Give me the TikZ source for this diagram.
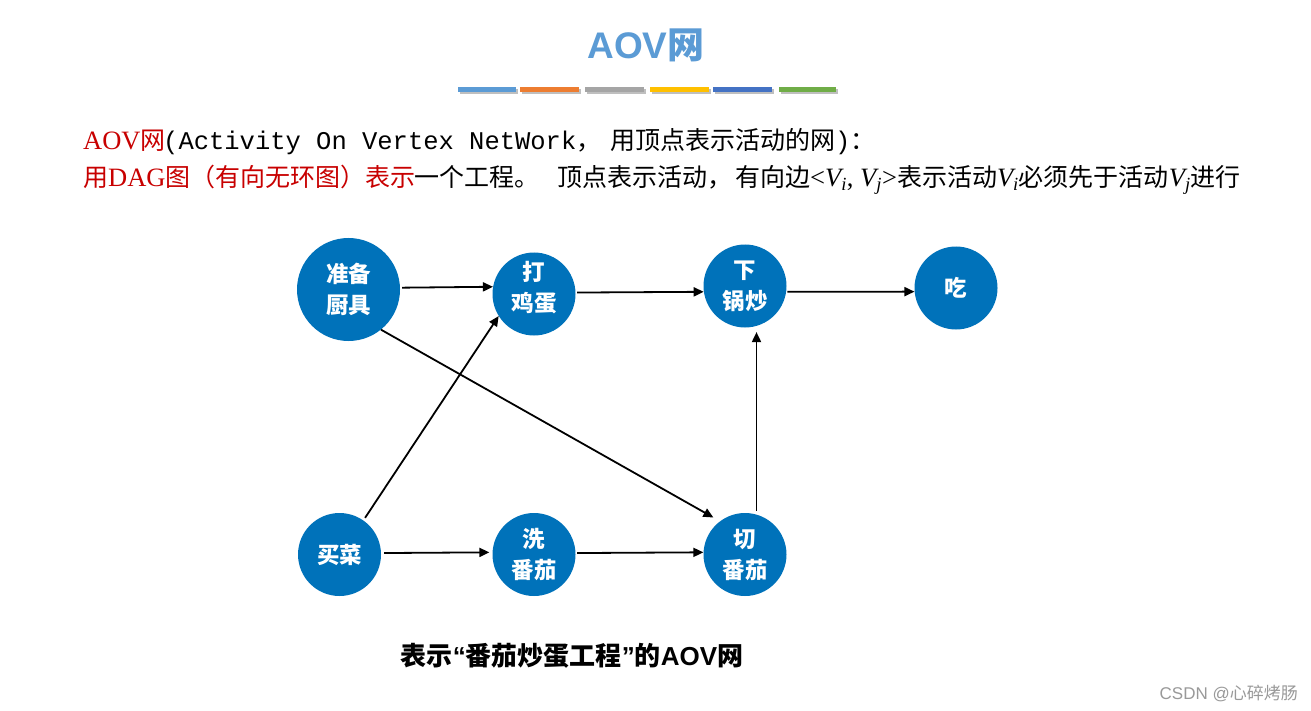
\documentclass[tikz,border=0pt]{standalone}
\usepackage{fontspec}
\setmainfont{Liberation Serif}
\newfontfamily\serfam{Liberation Serif}
\newfontfamily\monofam{Liberation Mono}
\newfontfamily\sansfam{Liberation Sans}
\newfontfamily\zhfam{Noto Sans CJK SC}
\usetikzlibrary{arrows.meta}
\definecolor{nodeblue}{RGB}{0,114,186}
\definecolor{titleblue}{RGB}{91,155,213}
\definecolor{aovred}{RGB}{200,0,0}
\definecolor{barA}{RGB}{91,155,213}
\definecolor{barB}{RGB}{237,125,49}
\definecolor{barC}{RGB}{165,165,165}
\definecolor{barD}{RGB}{255,192,0}
\definecolor{barE}{RGB}{68,114,196}
\definecolor{barF}{RGB}{112,173,71}
\newcommand\zhf{\zhfam\fontsize{25}{29}\selectfont}
\newcommand\serf{\serfam\fontsize{26.5}{30}\selectfont}
\newcommand\monof{\monofam\fontsize{25.5}{30}\selectfont}
\tikzset{
  vtx/.style={circle, fill=nodeblue, draw=none, inner sep=0pt, minimum size=83pt,
    text=white, align=center, font=\zhfam\bfseries\fontsize{22.5}{31}\selectfont},
  lbl/.style={inner sep=0pt, text=white, align=center, font=\zhfam\bfseries\fontsize{22.5}{31}\selectfont},
  arr/.style={-{Triangle[length=10pt,width=9pt]}, line width=1.8pt, black},
  txt/.style={anchor=base west, inner sep=0pt},
}
\begin{document}
\begin{tikzpicture}[x=1pt,y=-1pt]
\useasboundingbox (0,0) rectangle (1311,711);
\fill[white] (0,0) rectangle (1311,711);

% title
\node[anchor=base, inner sep=0pt, text=titleblue, font=\bfseries\fontsize{37}{40}\selectfont] (title) at (646,59) {\sansfam AOV\zhfam 网};

% colour bars
\foreach \xa/\xb/\c in {458/516/barA, 520/579/barB, 585/644/barC, 650/709/barD, 713/772/barE, 779/836/barF}{
  \fill[black, opacity=0.25] (\xa+1.5,89.5) rectangle (\xb+1.5,94.5);
  \fill[\c] (\xa,87) rectangle (\xb,92);
}

% text line 1
\node[txt] (l1a) at (83,150) {\color{aovred}\serf AOV\zhf 网};
\node[txt] (l1b) at (163,150) {\monof(Activity On Vertex NetWork\zhf ，};
\node[txt] (l1c) at (610,150) {\zhf 用顶点表示活动的网\monof)\zhf ：};

% text line 2
\node[txt, text=aovred] (l2a) at (83,187) {\zhf 用\serf DAG\zhf 图（有向无环图）表示};
\node[txt] (l2b) at (414,187) {\zhf 一个工程。};
\node[txt] (l2c) at (557,187) {\zhf 顶点表示活动，};
\node[txt] (l2d) at (735,187) {\zhf 有向边\serf <\itshape V\textsubscript{i}\upshape, \itshape V\textsubscript{j}\upshape>\zhf 表示活动\serf\itshape V\textsubscript{i}\zhf\upshape 必须先于活动\serf\itshape V\textsubscript{j}\zhf\upshape 进行};

% vertices
\node[vtx, minimum size=103pt] (A) at (348.5,289.5) {准备\\厨具};
\node[vtx] (B) at (534,294) {};
\node[lbl] (Bt) at ([yshift=6pt]B.center) {打\\鸡蛋};
\node[vtx] (C) at (745,286) {下\\锅炒};
\node[vtx] (D) at (956,288) {吃};
\node[vtx] (E) at (339.5,554.5) {买菜};
\node[vtx] (F) at (534,554.5) {洗\\番茄};
\node[vtx] (G) at (745,554.5) {切\\番茄};

% connectors
\draw[arr, shorten <=2pt] (A.2.78) -- (B.170.29);
\draw[arr, shorten <=1.5pt] (B.2.76) -- (C.188.31);
\draw[arr, shorten <=1pt] (C.-8.31) -- (D.185.53);
\draw[arr, shorten <=3pt, shorten >=3pt] (E.2.07) -- (F.177.93);
\draw[arr, shorten <=1.5pt] (F.2.07) -- (G.177.93);
\draw[arr, shorten >=7.5pt] (A.-51.1) -- (G.127.9);
\draw[arr, shorten <=3pt] (E.55) -- (B.212.7);
\draw[arr, shorten <=3.5pt, shorten >=6pt] (G.74.6) -- (C.-74.6);

% caption
\node[anchor=base, inner sep=0pt, font=\bfseries\fontsize{26}{30}\selectfont] (cap) at (572,665) {\zhfam 表示\sansfam “\zhfam 番茄炒蛋工程\sansfam ”\zhfam 的\sansfam AOV\zhfam 网};

% site mark
\node[anchor=base east, inner sep=0pt, text=black!40, font=\fontsize{17}{20}\selectfont] (mark) at (1298,699) {\sansfam CSDN @\zhfam 心碎烤肠};
\end{tikzpicture}
\end{document}
